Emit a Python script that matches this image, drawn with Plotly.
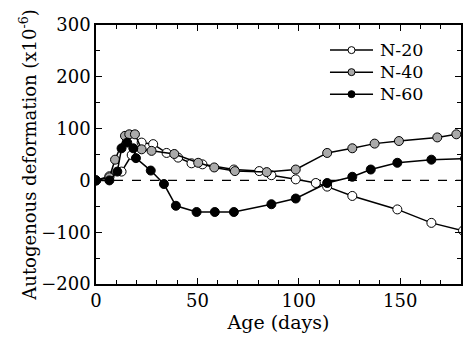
import plotly.graph_objects as go

days_20 = [0, 6.6, 12.6, 17.6, 22.5, 28.2, 34.8, 40.5, 47.1, 52.5, 68, 80.5, 86.5, 98.5, 108.4, 114, 126.4, 148.6, 165.4, 181]
n20 = [0, 8, 17, 49, 73, 70, 53, 44, 33, 31, 21, 18, 10, 2, -5, -12, -30, -56, -82, -97]

days_40 = [0, 6.6, 9.4, 14.3, 16.4, 19.2, 22.5, 27.4, 38.6, 50.4, 58.3, 68.5, 84.2, 98.5, 114, 126.4, 137.4, 149.4, 168.3, 177.7]
n40 = [0, 6, 40, 86, 89, 89, 60, 57, 51, 34, 25, 18, 16, 21, 53, 62, 71, 76, 83, 89]

days_60 = [0, 6.6, 10.5, 12.6, 15.4, 18.4, 19.7, 27, 33.5, 39.4, 49.6, 58.6, 68, 86.5, 98.5, 114, 126.4, 135.5, 148.6, 165.4, 182]
n60 = [0, 0, 17, 62, 73, 62, 43, 19, -7, -49, -61, -61, -61, -46, -35, -5, 7, 21, 34, 40, 42]

series_names = ["N-20", "N-40", "N-60"]
series_fill = ["white", "#aaaaaa", "black"]

font_family = "DejaVu Serif"

fig = go.Figure()
for name, x, y, col in zip(series_names, [days_20, days_40, days_60], [n20, n40, n60], series_fill):
    fig.add_trace(go.Scatter(
        x=x, y=y, name=name, mode="lines+markers", cliponaxis=True, showlegend=False,
        line=dict(color="black", width=1.5),
        marker=dict(size=9, color=col, line=dict(color="black", width=1)),
    ))

fig.add_shape(type="line", xref="paper", yref="y", x0=0, x1=1, y0=0, y1=0,
              line=dict(color="black", width=1.2, dash="dash"), layer="below")

# manual legend (compact rows like the reference)
leg_rows = [0.903, 0.818, 0.733]
for name, col, yy in zip(series_names, series_fill, leg_rows):
    fig.add_shape(type="line", xref="paper", yref="paper", x0=0.641, x1=0.759, y0=yy, y1=yy,
                  line=dict(color="black", width=1.5))
    fig.add_shape(type="circle", xref="paper", yref="paper", xsizemode="pixel", ysizemode="pixel",
                  xanchor=0.700, yanchor=yy, x0=-3.5, x1=3.5, y0=-3.5, y1=3.5,
                  fillcolor=col, line=dict(color="black", width=1))
    fig.add_annotation(xref="paper", yref="paper", x=0.775, y=yy, xanchor="left", yanchor="middle",
                       text=name, showarrow=False, borderpad=0,
                       font=dict(family=font_family, size=17.5, color="black"))

axis_common = dict(
    showline=True, linecolor="black", linewidth=1.5, mirror="ticks",
    ticks="inside", ticklen=6, tickwidth=1, tickcolor="black",
    showgrid=False, zeroline=False,
    tickfont=dict(family=font_family, size=18, color="black"),
)

fig.update_layout(
    width=474, height=354,
    margin=dict(l=96, r=13, t=25, b=70),
    paper_bgcolor="white", plot_bgcolor="white",
    font=dict(family=font_family, size=18, color="black"),
    showlegend=False,
    xaxis=dict(range=[0, 180], tickvals=[0, 50, 100, 150],
               minor=dict(dtick=10, ticks="inside", ticklen=4, tickcolor="black"),
               title=dict(text="Age (days)", font=dict(family=font_family, size=19), standoff=5),
               **axis_common),
    yaxis=dict(range=[-200, 300], tickvals=[-200, -100, 0, 100, 200, 300],
               minor=dict(dtick=50, ticks="inside", ticklen=4, tickcolor="black"),
               title=dict(text="Autogenous deformation (x10<sup>-6</sup>)", font=dict(family=font_family, size=18), standoff=0),
               **axis_common),
)

fig.write_html("out.html")
